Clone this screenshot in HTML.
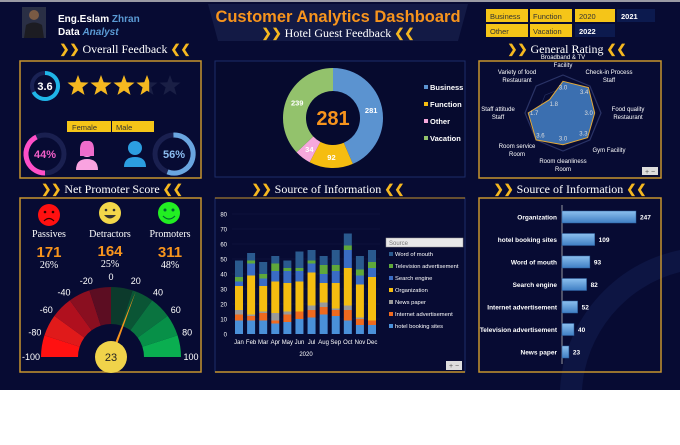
<!DOCTYPE html>
<html><head><meta charset="utf-8">
<style>
html,body{margin:0;padding:0;background:#fff;width:680px;height:445px;overflow:hidden}
svg{display:block}
text{font-family:"Liberation Sans",sans-serif}
.serif{font-family:"Liberation Serif",serif}
</style></head>
<body>
<svg id="root" width="680" height="445" viewBox="0 0 680 445" xmlns="http://www.w3.org/2000/svg">
<defs>
<linearGradient id="bluebar" x1="0" y1="0" x2="0" y2="1"><stop offset="0" stop-color="#8cc0ee"/><stop offset="1" stop-color="#3f7fc4"/></linearGradient>
<linearGradient id="panelBorder" x1="0" y1="0" x2="1" y2="0"><stop offset="0" stop-color="#c7952e"/><stop offset="0.5" stop-color="#e2b44a"/><stop offset="1" stop-color="#c7952e"/></linearGradient>
</defs>
<rect x="0" y="0" width="680" height="390" fill="#070b33"/>
<rect x="0" y="0" width="680" height="2" fill="#9a9aa4"/>
<path d="M560 390 A150 150 0 0 1 680 250 L680 272 A130 130 0 0 0 582 390 Z" fill="#101a4a" opacity="0.7"/>

<!-- header -->
<g>
<rect x="22" y="7" width="24" height="31" fill="#2a2f45"/>
<circle cx="34" cy="15" r="5" fill="#7a5a44"/>
<path d="M24 38 L26 25 Q34 20 42 25 L44 38 Z" fill="#1c1c22"/>
<text x="58" y="22" font-size="10" font-weight="bold" fill="#fff">Eng.Eslam <tspan fill="#5b9bd5">Zhran</tspan></text>
<text x="58" y="35" font-size="10" font-weight="bold" fill="#fff">Data <tspan fill="#5b9bd5" font-style="italic">Analyst</tspan></text>
</g>
<path d="M208 4 L468 4 L458 41 L218 41 Z" fill="#131a45"/>
<text x="338" y="22" text-anchor="middle" font-size="16.5" font-weight="bold" fill="#f7941d">Customer Analytics Dashboard</text>
<text x="338" y="37" text-anchor="middle" font-size="12" class="serif" fill="#fff"><tspan fill="#f5b820" font-weight="bold">❯❯ </tspan>Hotel Guest Feedback<tspan fill="#f5b820" font-weight="bold"> ❮❮</tspan></text>

<g>
<g><rect x="486" y="9" width="42" height="13" fill="#f5c518"/><text x="490" y="19" font-size="7.5" fill="#333">Business</text></g>
<g><rect x="530" y="9" width="42" height="13" fill="#f5c518"/><text x="533" y="19" font-size="7.5" fill="#333">Function</text></g>
<g><rect x="486" y="24" width="42" height="13" fill="#f5c518"/><text x="490" y="34" font-size="7.5" fill="#333">Other</text></g>
<g><rect x="530" y="24" width="42" height="13" fill="#f5c518"/><text x="533" y="34" font-size="7.5" fill="#333">Vacation</text></g>
<g><rect x="575" y="9" width="40" height="13" fill="#f5c518"/><text x="579" y="19" font-size="7.5" fill="#333">2020</text></g>
<g><rect x="617" y="9" width="38" height="13" fill="#0c1a4e"/><text x="621" y="19" font-size="7.5" font-weight="bold" fill="#fff">2021</text></g>
<g><rect x="575" y="24" width="40" height="13" fill="#0c1a4e"/><text x="579" y="34" font-size="7.5" font-weight="bold" fill="#fff">2022</text></g>
</g>

<!-- section headers -->
<g class="serif" font-size="12" fill="#fff">
<text x="125" y="53" text-anchor="middle" class="serif"><tspan fill="#f5b820" font-weight="bold">❯❯</tspan>   Overall Feedback   <tspan fill="#f5b820" font-weight="bold">❮❮</tspan></text>
<text x="567" y="53" text-anchor="middle" class="serif"><tspan fill="#f5b820" font-weight="bold">❯❯</tspan>      General Rating      <tspan fill="#f5b820" font-weight="bold">❮❮</tspan></text>
<text x="112" y="193" text-anchor="middle" class="serif"><tspan fill="#f5b820" font-weight="bold">❯❯</tspan>  Net Promoter Score  <tspan fill="#f5b820" font-weight="bold">❮❮</tspan></text>
<text x="328" y="193" text-anchor="middle" class="serif"><tspan fill="#f5b820" font-weight="bold">❯❯</tspan> Source of Information <tspan fill="#f5b820" font-weight="bold">❮❮</tspan></text>
<text x="570" y="193" text-anchor="middle" class="serif"><tspan fill="#f5b820" font-weight="bold">❯❯</tspan> Source of Information <tspan fill="#f5b820" font-weight="bold">❮❮</tspan></text>
</g>

<!-- panels -->
<rect x="20" y="61" width="181" height="117" fill="none" stroke="#c7952e" stroke-width="1.5"/>
<rect x="215" y="61" width="250" height="116" fill="#060a2e" stroke="#1c2c6a" stroke-width="1"/>
<rect x="479" y="61" width="182" height="117" fill="none" stroke="#c7952e" stroke-width="1.5"/>
<rect x="20" y="198" width="181" height="174" fill="none" stroke="#c7952e" stroke-width="1.5"/>
<rect x="215" y="198" width="250" height="174" fill="none" stroke="#1c2c6a" stroke-width="1"/>
<line x1="215" y1="372" x2="465" y2="372" stroke="#c7952e" stroke-width="1.5"/>
<line x1="215" y1="198" x2="465" y2="198" stroke="#c7952e" stroke-width="1"/>
<rect x="479" y="198" width="182" height="174" fill="none" stroke="#c7952e" stroke-width="1.5"/>

<!-- overall feedback -->
<g>
<circle cx="45" cy="86" r="13" fill="none" stroke="#1a2255" stroke-width="4"/>
<path d="M45 73 A13 13 0 1 1 33.5 92" fill="none" stroke="#1fb5e8" stroke-width="4"/>
<text x="45" y="90" text-anchor="middle" font-size="11" font-weight="bold" fill="#fff">3.6</text>
</g>
<g id="stars"></g>
<g>
<g><rect x="67" y="121" width="44" height="11" fill="#f5c518"/><text x="72" y="130" font-size="7.5" fill="#333">Female</text></g>
<g><rect x="112" y="121" width="42" height="11" fill="#f5c518"/><text x="116" y="130" font-size="7.5" fill="#333">Male</text></g>
</g>
<g>
<circle cx="45" cy="154" r="19" fill="none" stroke="#1a2050" stroke-width="5"/>
<path d="M45 135 A19 19 0 0 1 53.5 171" fill="none" stroke="#ff4fc8" stroke-width="5" transform="rotate(180 45 154)"/>
<text x="45" y="158" text-anchor="middle" font-size="11" font-weight="bold" fill="#f35fc9">44%</text>
</g>
<g>
<circle cx="87" cy="150" r="7" fill="#f9a3e0"/><path d="M80 150 Q80 140 87 141 Q94 140 94 150 L94 156 L80 156Z" fill="#ee6ccc"/>
<path d="M76 170 Q76 159 87 159 Q98 159 98 170Z" fill="#f9a3e0"/>
</g>
<g>
<circle cx="135" cy="148" r="7" fill="#2c9ee0"/>
<path d="M124 167 Q124 157 135 157 Q146 157 146 167Z" fill="#2c9ee0"/>
</g>
<g>
<circle cx="174" cy="154" r="19" fill="none" stroke="#1a2050" stroke-width="5"/>
<path d="M174 135 A19 19 0 1 0 181 171.6" fill="none" stroke="#6aa6e0" stroke-width="5" transform="rotate(200 174 154) scale(1)"/>
<text x="174" y="158" text-anchor="middle" font-size="11" font-weight="bold" fill="#8bbcf0">56%</text>
</g>

<!-- donut -->
<g id="donut"></g>
<!-- radar -->
<g id="radar"></g>
<g><rect x="642" y="167" width="16" height="8" fill="#ddd"/><text x="645" y="174" font-size="7" fill="#555">+ −</text></g>

<!-- NPS -->
<g>
<circle cx="49" cy="215" r="11" fill="#ff1010"/><circle cx="45" cy="212" r="1.3" fill="#300"/><circle cx="53" cy="212" r="1.3" fill="#300"/><path d="M44 221 Q49 216 54 221" stroke="#300" fill="none" stroke-width="1.2"/>
<circle cx="110" cy="213" r="11" fill="#f2d74a"/><circle cx="106" cy="210" r="1.3" fill="#333"/><circle cx="114" cy="210" r="1.3" fill="#333"/><path d="M104 215 Q110 222 116 215Z" fill="#333"/>
<circle cx="169" cy="213" r="11" fill="#22ee22"/><circle cx="165" cy="210" r="1.5" fill="#063"/><circle cx="173" cy="210" r="1.5" fill="#063"/><path d="M163 216 Q169 222 175 216" stroke="#063" fill="none" stroke-width="1.2"/>
</g>
<g class="serif" fill="#fff" font-size="10" text-anchor="middle">
<text x="49" y="237" class="serif">Passives</text>
<text x="110" y="237" class="serif">Detractors</text>
<text x="170" y="237" class="serif">Promoters</text>
<text x="49" y="268" class="serif">26%</text>
<text x="110" y="267" class="serif">25%</text>
<text x="170" y="268" class="serif">48%</text>
</g>
<g fill="#f7941d" font-size="15" font-weight="bold" text-anchor="middle">
<text x="49" y="257">171</text>
<text x="110" y="256">164</text>
<text x="170" y="257">311</text>
</g>
<g id="gauge"></g>

<!-- stacked -->
<g id="stacked"></g>
<g><rect x="446" y="361" width="16" height="9" fill="#ddd"/><text x="449" y="368" font-size="7" fill="#555">+ −</text></g>
<!-- hbar -->
<g id="hbar"></g>
</svg>
<script>
// ---- data ----
const donutCats = ["Business","Function","Other","Vacation"];
const donutVals = [281,92,34,239];
const radarCats = ["Broadband & TV|Facility","Check-in Process|Staff","Food quality|Restaurant","Gym Facility","Room cleanliness|Room","Room service|Room","Staff attitude|Staff","Variety of food|Restaurant"];
const radarVals = [3.0,3.4,3.0,3.3,3.0,3.6,3.3,1.8];
const radarLabels = ["3.0","3.4","3.0","3.3","3.0","3.6","1.7","1.8"];
const months = ["Jan","Feb","Mar","Apr","May","Jun","Jul","Aug","Sep","Oct","Nov","Dec"];
const stackSeries = ["hotel booking sites","Internet advertisement","News paper","Organization","Search engine","Television advertisement","Word of mouth"];
const sHotel = [9,9,9,7,8,10,11,13,12,9,6,6];
const sInternet = [4,3,5,2,5,5,5,5,4,7,4,3];
const sNews = [3,1,1,5,2,0,3,3,1,3,1,0];
const sOrg = [16,26,17,21,19,20,22,13,17,25,22,29];
const sSearch = [3,8,5,7,8,7,6,6,8,12,6,6];
const sTV = [3,2,3,5,2,2,2,6,4,3,4,4];
const sWom = [11,5,8,5,5,11,7,6,10,8,9,8];
const yTicks = [0,10,20,30,40,50,60,70,80];
const hbarCats = ["Organization","hotel booking sites","Word of mouth","Search engine","Internet advertisement","Television advertisement","News paper"];
const hbarVals = [247,109,93,82,52,40,23];
const npsValue = 23;
const gaugeTicks = [-100,-80,-60,-40,-20,0,20,40,60,80,100];
const ratingValue = 3.6;

const NS="http://www.w3.org/2000/svg";
function mk(tag,attrs,parent,txt){const e=document.createElementNS(NS,tag);for(const k in attrs)e.setAttribute(k,attrs[k]);if(txt!==undefined)e.textContent=txt;parent.appendChild(e);return e;}

// stars
(function(){
 const g=document.getElementById('stars');
 for(let i=0;i<5;i++){
  const cx=78+i*23,cy=86,R=11,r=4.6;let p=[];
  for(let k=0;k<10;k++){const a=-Math.PI/2+k*Math.PI/5;const rr=k%2?r:R;p.push((cx+rr*Math.cos(a)).toFixed(1)+","+(cy+rr*Math.sin(a)).toFixed(1));}
  const fill=Math.max(0,Math.min(1,ratingValue-i));
  const s=mk('polygon',{points:p.join(' '),fill:'#1a1f45'},g);
  
  
  if(fill>0){
   const cid='sc'+i;const cp=mk('clipPath',{id:cid},g);mk('rect',{x:cx-R,y:cy-R,width:2*R*fill,height:2*R},cp);
   const f=mk('polygon',{points:p.join(' '),fill:'#f5b820','clip-path':'url(#'+cid+')'},g);
   
   
  }
 }
})();

// donut
(function(){
 const g=document.getElementById('donut');const cx=333,cy=118,R=50,r=27;
 const cols=["#5b93d0","#f5bd10","#f6a8dc","#93c26c"];
 const tot=donutVals.reduce((a,b)=>a+b,0);let a0=-Math.PI/2;
 donutVals.forEach((v,i)=>{
  const a1=a0+v/tot*2*Math.PI;const la=(a1-a0)>Math.PI?1:0;
  const P=(rad,a)=>(cx+rad*Math.cos(a)).toFixed(2)+" "+(cy+rad*Math.sin(a)).toFixed(2);
  const d="M"+P(R,a0)+" A"+R+" "+R+" 0 "+la+" 1 "+P(R,a1)+" L"+P(r,a1)+" A"+r+" "+r+" 0 "+la+" 0 "+P(r,a0)+"Z";
  const s=mk('path',{d:d,fill:cols[i]},g);
  
  
  const am=(a0+a1)/2;const t=mk('text',{x:cx+39*Math.cos(am),y:cy+39*Math.sin(am)+3,'text-anchor':'middle','font-size':'7.5','font-weight':'bold',fill:'#fff'},g,v);
  
  
  const ly=90+i*17;
  const sq=mk('rect',{x:424,y:ly-5,width:4,height:4,fill:cols[i]},g);
  
  
  const lt=mk('text',{x:430,y:ly,'font-size':'7.5','font-weight':'bold',fill:'#fff'},g,donutCats[i]);
  
  
  a0=a1;
 });
 const c=mk('text',{x:cx,y:cy+7,'text-anchor':'middle','font-size':'20','font-weight':'bold',fill:'#f7941d'},g,donutVals[0]);
 
 
})();

// radar
(function(){
 const g=document.getElementById('radar');const cx=563,cy=113,R=38,max=3.6;const n=radarCats.length;
 const ang=i=>-Math.PI/2+i*2*Math.PI/n;
 for(let lv=1;lv<=3;lv++){let p=[];for(let i=0;i<n;i++){const rr=R*lv/3;p.push((cx+rr*Math.cos(ang(i))).toFixed(1)+","+(cy+rr*Math.sin(ang(i))).toFixed(1));}mk('polygon',{points:p.join(' '),fill:'none',stroke:'#2a3366','stroke-width':lv==3?1.2:0.6},g);}
 let p=[];radarVals.forEach((v,i)=>{const rr=R*v/max;p.push((cx+rr*Math.cos(ang(i))).toFixed(1)+","+(cy+rr*Math.sin(ang(i))).toFixed(1));});
 const poly=mk('polygon',{points:p.join(' '),fill:'#3b6fb0',stroke:'#e0a83a','stroke-width':1},g);
 
 
 radarVals.forEach((v,i)=>{
  const rr=R*v/max-6;const t=mk('text',{x:cx+rr*Math.cos(ang(i)),y:cy+rr*Math.sin(ang(i))+2,'text-anchor':'middle','font-size':'6',fill:'#ddd'},g,radarLabels[i]);
  
  
  const lr=R+14;const lx=cx+lr*Math.cos(ang(i))*1.25,ly=cy+lr*Math.sin(ang(i));
  const parts=radarCats[i].split('|');
  const tt=mk('text',{x:lx,y:ly-(parts.length-1)*4+2,'text-anchor':'middle','font-size':'6',fill:'#fff'},g);
  
  
  parts.forEach((s,k)=>mk('tspan',{x:lx,dy:k?8:0},tt,s));
 });
})();

// gauge
(function(){
 const g=document.getElementById('gauge');const cx=111,cy=357,R=70,r=33;
 const cols=["#ff1111","#e01a1a","#b0101e","#8a0f20","#5c0d22","#0c3a2c","#0a5535","#0a7440","#079048","#0aae50"];
 const toA=v=>Math.PI+(v+100)/200*Math.PI;
 for(let i=0;i<10;i++){
  const a0=toA(gaugeTicks[i]),a1=toA(gaugeTicks[i+1]);
  const P=(rad,a)=>(cx+rad*Math.cos(a)).toFixed(2)+" "+(cy+rad*Math.sin(a)).toFixed(2);
  const s=mk('path',{d:"M"+P(R,a0)+" A"+R+" "+R+" 0 0 1 "+P(R,a1)+" L"+P(r,a1)+" A"+r+" "+r+" 0 0 0 "+P(r,a0)+"Z",fill:cols[i]},g);
  
  
 }
 gaugeTicks.forEach(v=>{const a=toA(v);const t=mk('text',{x:cx+80*Math.cos(a),y:cy+80*Math.sin(a)+3,'text-anchor':'middle','font-size':'9',fill:'#fff','font-family':'Liberation Serif, serif'},g,v);
  
  });
 const a=toA(npsValue);
 const n=mk('path',{d:`M${cx-1.5*Math.sin(a)} ${cy+1.5*Math.cos(a)} L${cx+R*Math.cos(a)} ${cy+R*Math.sin(a)} L${cx+1.5*Math.sin(a)} ${cy-1.5*Math.cos(a)}Z`,fill:'#f7941d'},g);
 
 
 mk('circle',{cx:cx,cy:cy,r:16,fill:'#f0d34a'},g);
 const t=mk('text',{x:cx,y:cy+4,'text-anchor':'middle','font-size':'11',fill:'#222','font-family':'Liberation Serif, serif'},g,npsValue);
 
 
})();

// stacked
(function(){
 const g=document.getElementById('stacked');
 const series=[sHotel,sInternet,sNews,sOrg,sSearch,sTV,sWom];
 const cols=["#4a90d9","#ef6a1f","#9a9a9a","#f5bd10","#3a6cc4","#5fa83a","#2a5a8e"];
 const y0=334,yTop=214,x0=239,x1=372;
 const Y=v=>y0-(v/80)*(y0-yTop);const X=i=>x0+i*(x1-x0)/11;
 yTicks.forEach(v=>{
  if(v>0)mk('line',{x1:232,x2:380,y1:Y(v),y2:Y(v),stroke:'#141a45','stroke-width':0.6},g);
  const t=mk('text',{x:227,y:Y(v)+2.5,'text-anchor':'end','font-size':'6',fill:'#fff'},g,v);
  
  
 });
 months.forEach((m,i)=>{
  let acc=0;
  series.forEach((s,k)=>{
   const b=mk('rect',{x:X(i)-4,y:Y(acc+s[i]),width:8,height:Y(acc)-Y(acc+s[i]),fill:cols[k]},g);
   
   
   acc+=s[i];
  });
  const t=mk('text',{x:X(i),y:344,'text-anchor':'middle','font-size':'6',fill:'#fff'},g,m);
  
  
 });
 const yr=mk('text',{x:306,y:356,'text-anchor':'middle','font-size':'6',fill:'#fff'},g,'2020');
 
 
 const src=mk('rect',{x:386,y:238,width:77,height:9,fill:'#e8e8e8',stroke:'#999','stroke-width':0.5},g);
 
 
 mk('text',{x:389,y:245,'font-size':'6',fill:'#777'},g,'Source');
 for(let k=6;k>=0;k--){
  const ly=256+(6-k)*12;
  mk('rect',{x:389,y:ly-4,width:4,height:4,fill:cols[k]},g);
  const t=mk('text',{x:395,y:ly,'font-size':'5.8',fill:'#fff'},g,stackSeries[k]==="Internet advertisement"?"Internet advertisement":stackSeries[k].replace("hotel","hotel"));
  
  
 }
})();

// hbar
(function(){
 const g=document.getElementById('hbar');const ax=562,sc=74/247;
 mk('line',{x1:ax,x2:ax,y1:205,y2:364,stroke:'#bbb','stroke-width':0.8},g);
 hbarCats.forEach((c,i)=>{
  const y=217+i*22.5;
  const b=mk('rect',{x:ax,y:y-6,width:hbarVals[i]*sc,height:12,fill:'url(#bluebar)',stroke:'#2c5f9e','stroke-width':0.5},g);
  
  
  const l=mk('text',{x:ax-5,y:y+2.5,'text-anchor':'end','font-size':'6.5','font-weight':'bold',fill:'#fff'},g,c);
  
  
  const v=mk('text',{x:ax+hbarVals[i]*sc+4,y:y+2.5,'font-size':'6.5','font-weight':'bold',fill:'#fff'},g,hbarVals[i]);
  
  
 });
})();
</script>
</body></html>
